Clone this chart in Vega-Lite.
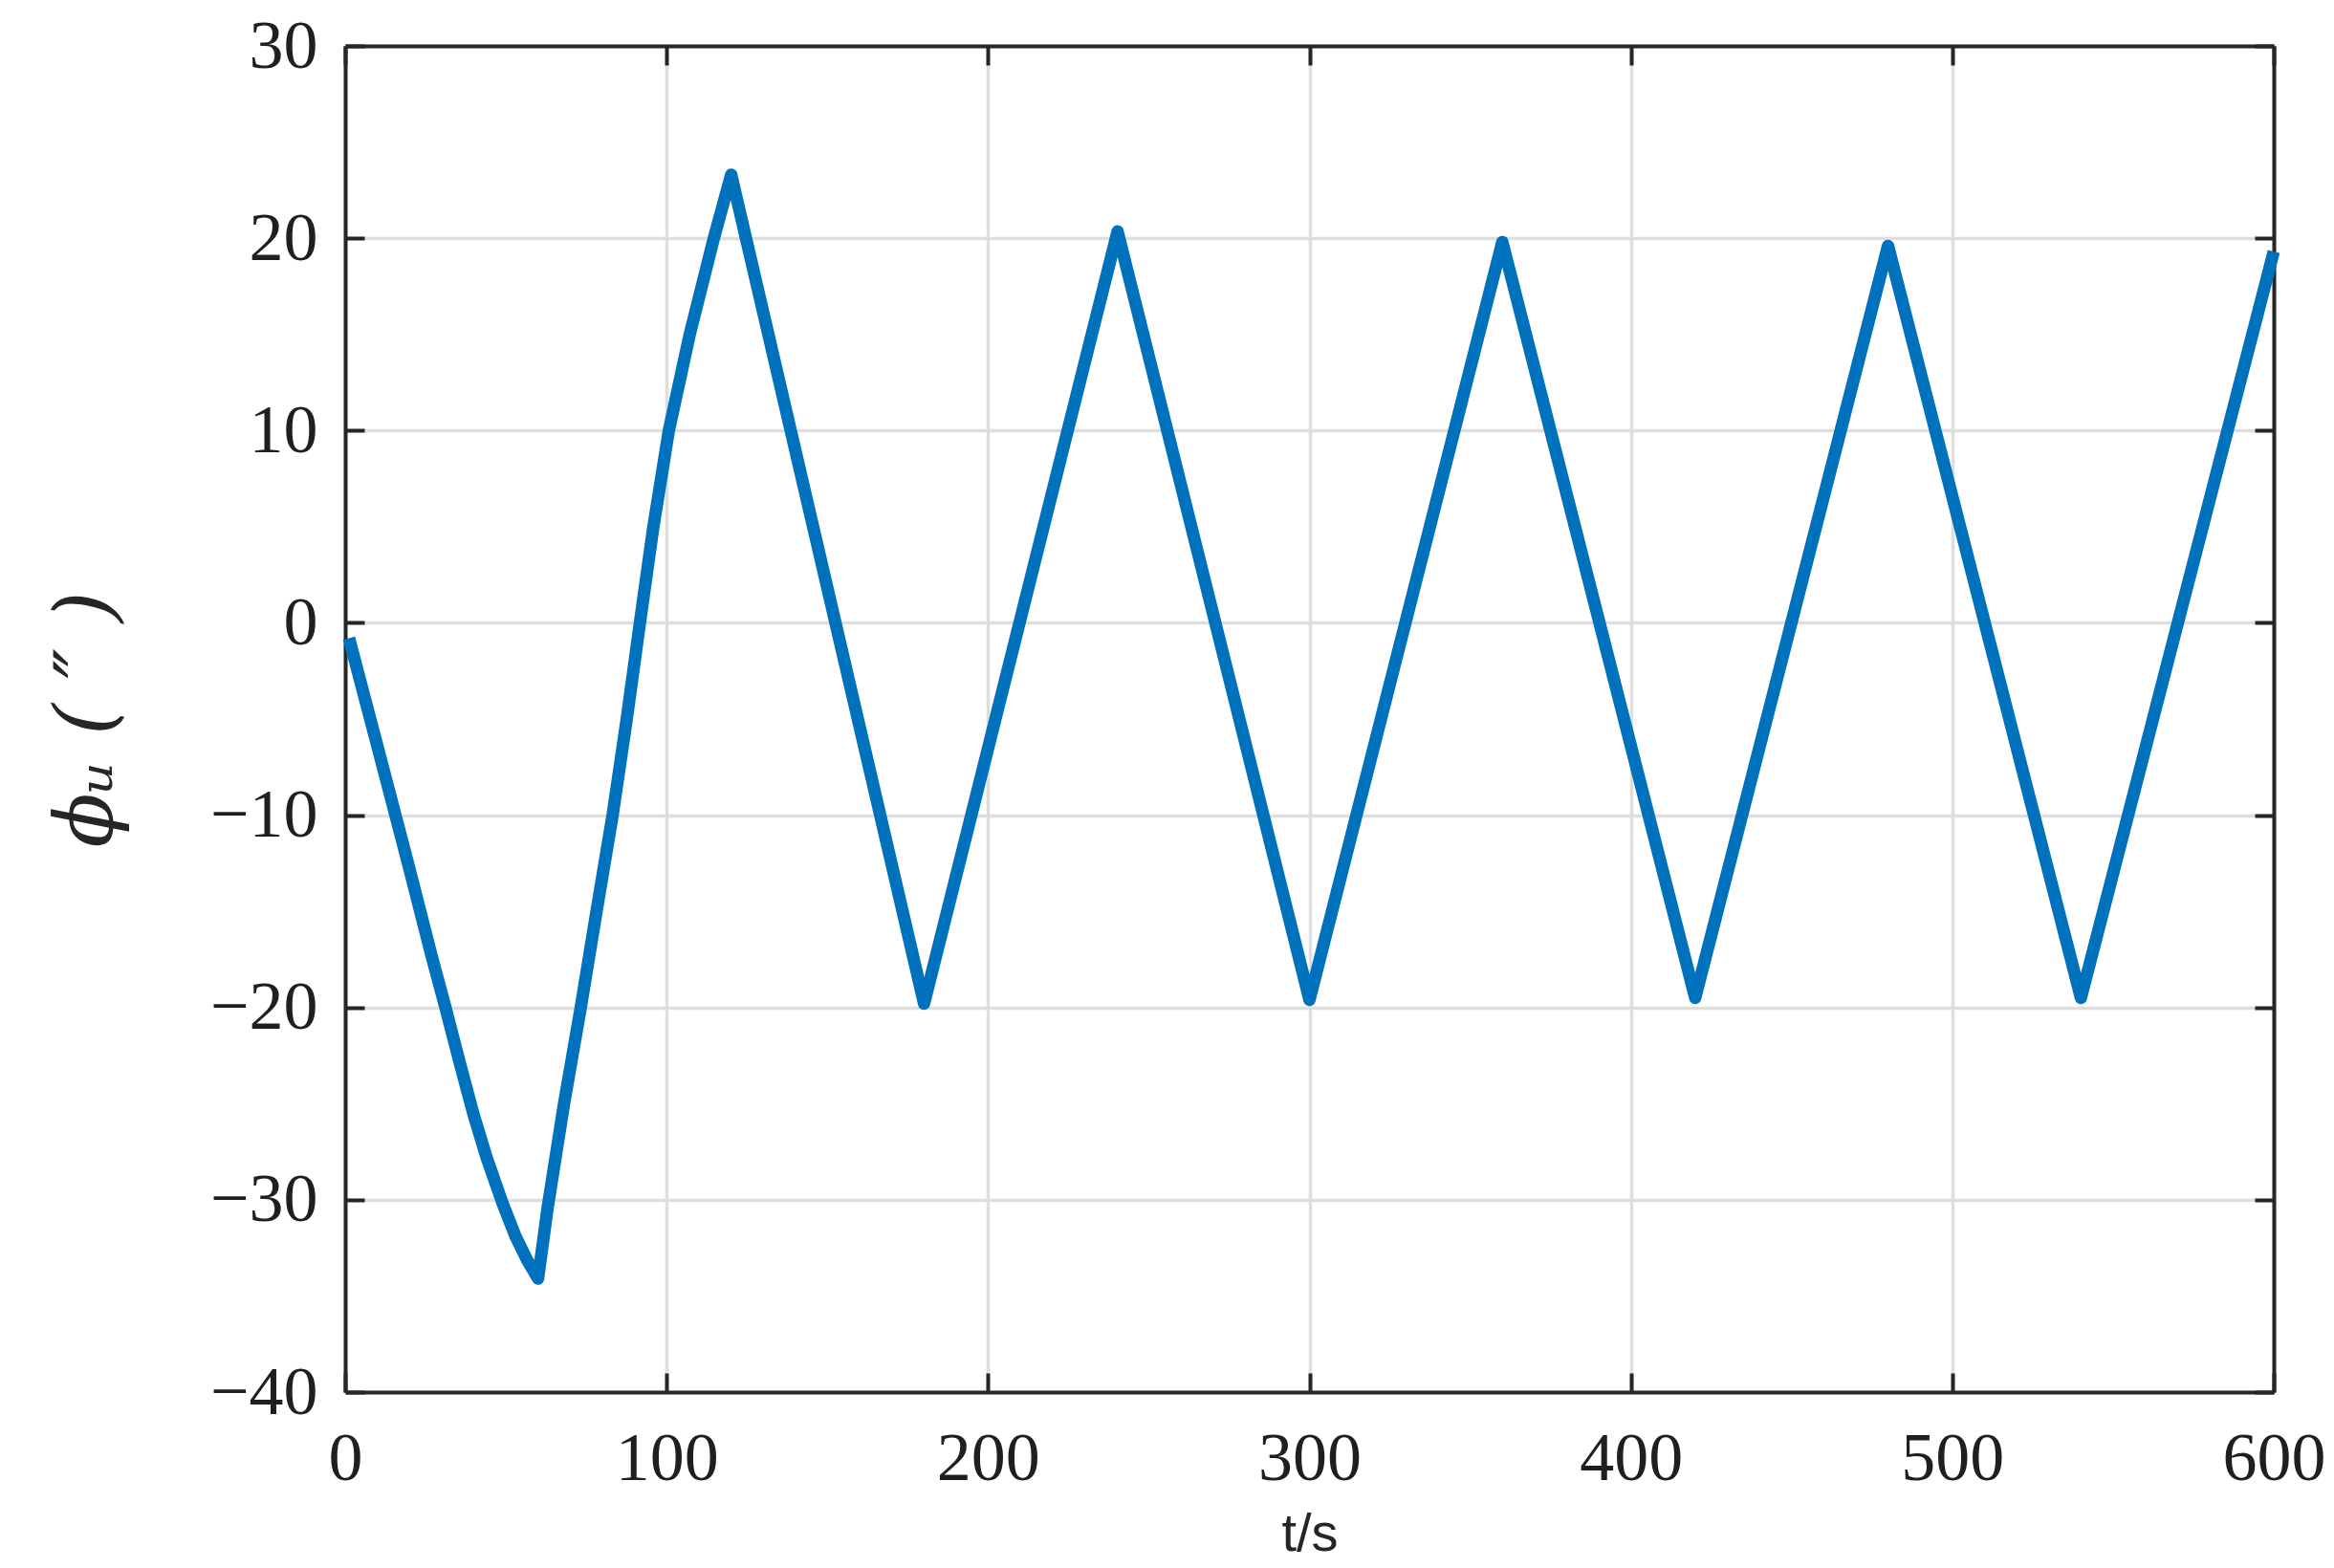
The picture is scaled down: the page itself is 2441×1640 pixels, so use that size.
{
  "$schema": "https://vega.github.io/schema/vega-lite/v6.json",
  "width": 2017,
  "height": 1408,
  "autosize": "none",
  "padding": {"left": 361, "top": 48, "right": 63, "bottom": 184},
  "background": "white",
  "data": {
    "values": [
      {"t": 1.2, "phi": -0.8},
      {"t": 10, "phi": -6.4},
      {"t": 15.8, "phi": -10.1},
      {"t": 20, "phi": -12.8},
      {"t": 26.7, "phi": -17.2},
      {"t": 31.2, "phi": -20},
      {"t": 36, "phi": -23.1},
      {"t": 40, "phi": -25.6},
      {"t": 44, "phi": -27.8},
      {"t": 49.0, "phi": -30.2},
      {"t": 53, "phi": -31.9},
      {"t": 56.5, "phi": -33.1},
      {"t": 60.0, "phi": -34.1},
      {"t": 63.0, "phi": -30.4},
      {"t": 68.0, "phi": -25.1},
      {"t": 73.3, "phi": -20},
      {"t": 78.2, "phi": -15},
      {"t": 83.2, "phi": -10},
      {"t": 87.6, "phi": -5},
      {"t": 91.7, "phi": 0},
      {"t": 95.8, "phi": 4.9},
      {"t": 100.7, "phi": 10},
      {"t": 107.2, "phi": 15},
      {"t": 114.7, "phi": 20},
      {"t": 120.1, "phi": 23.3},
      {"t": 180.1, "phi": -19.8},
      {"t": 240.3, "phi": 20.35},
      {"t": 300.0, "phi": -19.6},
      {"t": 360.0, "phi": 19.8},
      {"t": 420.0, "phi": -19.5},
      {"t": 480.0, "phi": 19.6},
      {"t": 540.0, "phi": -19.5},
      {"t": 600.0, "phi": 19.3}
    ]
  },
  "layer": [
    {
      "mark": {
        "type": "line",
        "color": "#0072BD",
        "strokeWidth": 13,
        "strokeJoin": "round",
        "strokeCap": "butt",
        "clip": false
      },
      "encoding": {
        "x": {
          "field": "t",
          "type": "quantitative",
          "scale": {"domain": [0, 600], "nice": false, "zero": false},
          "axis": {
            "orient": "bottom",
            "title": "t/s",
            "values": [0, 100, 200, 300, 400, 500, 600],
            "grid": true,
            "labelPadding": 54,
            "titlePadding": 16,
            "titleFont": "Liberation Sans",
            "titleFontSize": 56,
            "titleFontWeight": "normal"
          }
        },
        "y": {
          "field": "phi",
          "type": "quantitative",
          "scale": {"domain": [-40, 30], "nice": false, "zero": false},
          "axis": {
            "orient": "left",
            "title": "ϕᵤ  ( ″ )",
            "values": [-40, -30, -20, -10, 0, 10, 20, 30],
            "grid": true,
            "labelPadding": 49,
            "titlePadding": 85,
            "titleFont": "DejaVu Serif",
            "titleFontStyle": "italic",
            "titleFontSize": 84,
            "titleFontWeight": "normal"
          }
        }
      }
    },
    {
      "mark": {"type": "line", "opacity": 0},
      "encoding": {
        "x": {
          "field": "t",
          "type": "quantitative",
          "axis": {"orient": "top", "labels": false, "grid": false, "title": null, "values": [0, 100, 200, 300, 400, 500, 600]}
        },
        "y": {
          "field": "phi",
          "type": "quantitative",
          "axis": {"orient": "right", "labels": false, "grid": false, "title": null, "values": [-40, -30, -20, -10, 0, 10, 20, 30]}
        }
      }
    }
  ],
  "resolve": {"axis": {"x": "independent", "y": "independent"}},
  "config": {
    "view": {"stroke": null},
    "axis": {
      "domain": true,
      "domainColor": "#262626",
      "domainWidth": 4,
      "labelFlush": false,
      "labelOverlap": false,
      "tickSize": -20,
      "tickWidth": 4,
      "tickColor": "#262626",
      "gridColor": "#dedede",
      "gridWidth": 3.5,
      "labelFont": "Liberation Serif",
      "labelFontSize": 72,
      "labelColor": "#1f1f1f",
      "titleColor": "#262626"
    }
  }
}
